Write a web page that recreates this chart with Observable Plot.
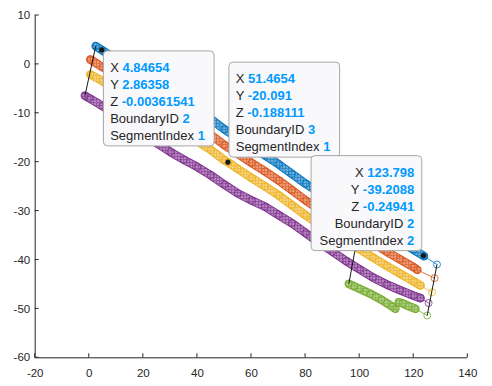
<!DOCTYPE html>
<html><head><meta charset="utf-8">
<script src="https://cdn.jsdelivr.net/npm/d3@7"></script>
<script src="https://cdn.jsdelivr.net/npm/@observablehq/plot@0.6"></script>
<style>body{margin:0;background:#fff;} svg{display:block;}</style>
</head><body><div id="chart"></div>
<script>
// ---- axis ticks ----
const xTicks = [-20, 0, 20, 40, 60, 80, 100, 120, 140];
const yTicks = [-60, -50, -40, -30, -20, -10, 0, 10];

// ---- lane boundary points ----
const blueX = [2.4, 4.84654, 10, 15, 20, 25, 30, 35, 40, 45, 50, 55, 60, 65, 70, 75, 80, 85, 90, 95, 100, 105, 110, 115, 120, 123.798];
const blueY = [3.75, 2.86358, 1.05, -0.7, -2.45, -4.2, -5.95, -7.7, -9.45, -11.2, -13.3, -15.1, -16.9, -18.6, -20.4, -22.4, -24.4, -26.2, -27.9, -29.6, -31.3, -33.0, -34.7, -36.3, -37.9, -39.2088];
const blueEnd = [128.6, -40.92];

const orangeX = [0.4, 5, 10, 15, 20, 25, 30, 35, 40, 45, 50, 55, 60, 65, 70, 75, 80, 85, 90, 95, 100, 105, 110, 115, 120, 121.3];
const orangeY = [1.0, -0.6, -2.15, -3.9, -5.65, -7.4, -9.15, -10.9, -12.65, -14.4, -16.5, -18.3, -20.15, -21.9, -23.7, -25.75, -27.8, -29.65, -31.4, -33.1, -34.85, -36.6, -38.3, -39.9, -41.5, -42.0];
const orangeEnd = [127.7, -43.7];

const yellowX = [0.4, 5, 10, 15, 20, 25, 30, 35, 40, 45, 50, 51.4654, 55, 60, 65, 70, 75, 80, 85, 90, 95, 100, 105, 110, 115, 120, 122.5];
const yellowY = [-2.07, -3.45, -5.22, -6.97, -8.72, -10.47, -12.22, -13.97, -15.72, -17.5, -19.6, -20.091, -21.4, -23.2, -24.95, -26.75, -28.8, -30.85, -32.7, -34.4, -36.1, -37.8, -39.5, -41.2, -42.8, -44.4, -45.2];
const yellowEnd = [126.8, -46.6];

const purpleX = [-1.6, 0, 5, 10, 15, 20, 25, 30, 35, 40, 45, 50, 55, 60, 65, 70, 75, 80, 85, 90, 95, 100, 105, 110, 115, 120, 122.5];
const purpleY = [-6.4, -6.9, -8.55, -10.4, -12.3, -14.2, -16.1, -17.9, -19.5, -21.0, -22.7, -24.6, -26.4, -27.8, -29.1, -30.8, -32.5, -34.5, -36.5, -38.3, -40.2, -41.9, -43.6, -45.0, -46.2, -47.3, -47.8];
const purpleEnd = [125.5, -48.8];

const green1X = [96.0, 98, 100, 102, 104, 106, 108, 110, 112, 113.2];
const green1Y = [-44.87, -45.4, -45.9, -46.4, -46.91, -47.5, -48.1, -48.8, -49.5, -49.98];
const green2X = [114.5, 116, 118, 120.6];
const green2Y = [-48.63, -48.9, -49.4, -49.98];
const greenEnd = [125.0, -51.35];

// ---- segment connector lines ----
const connX1 = [2.4, 100.5, 128.6];
const connY1 = [3.75, -31.3, -40.92];
const connX2 = [-1.6, 96.0, 125.0];
const connY2 = [-6.4, -44.87, -51.35];

// ---- data tips ----
const tipX = [4.84654, 51.4654, 123.798];
const tipY = [2.86358, -20.091, -39.2088];
const tipZ = [-0.00361541, -0.188111, -0.24941];
const tipBoundary = [2, 3, 2];
const tipSegment = [1, 1, 2];

// ---- build ----
const rows = (xs, ys) => xs.map((x, i) => ({x, y: ys[i]}));
const lanes = [
  {id: "blue", color: "#0072BD", pts: rows(blueX, blueY), end: blueEnd},
  {id: "orange", color: "#D95319", pts: rows(orangeX, orangeY), end: orangeEnd},
  {id: "yellow", color: "#EDB120", pts: rows(yellowX, yellowY), end: yellowEnd},
  {id: "purple", color: "#7E2F8E", pts: rows(purpleX, purpleY), end: purpleEnd},
  {id: "green", color: "#77AC30", pts: rows(green1X, green1Y), end: null},
  {id: "green", color: "#77AC30", pts: rows(green2X, green2Y), end: greenEnd}
];
const conns = connX1.map((x, i) => ({x1: x, y1: connY1[i], x2: connX2[i], y2: connY2[i]}));

const marks = [
  Plot.ruleX([-20], {stroke: "#262626", strokeWidth: 1}),
  Plot.ruleY([-60], {stroke: "#262626", strokeWidth: 1}),
  Plot.axisX({ticks: xTicks, tickSize: 0, tickPadding: 11, tickFormat: d => String(d), fontSize: 11.5, fill: "#262626"}),
  Plot.axisY({ticks: yTicks, tickSize: 0, tickPadding: 5, tickFormat: d => String(d), fontSize: 11.5, fill: "#262626"})
];
for (const l of lanes) {
  const full = l.end ? l.pts.concat([{x: l.end[0], y: l.end[1]}]) : l.pts;
  marks.push(Plot.line(full, {x: "x", y: "y", stroke: l.color, strokeWidth: 0.8}));
  marks.push(Plot.line(l.pts, {x: "x", y: "y", stroke: l.color, strokeWidth: 8.6}));
  marks.push(Plot.line(l.pts, {x: "x", y: "y", stroke: `url(#pat-${l.id})`, strokeWidth: 6.8}));
  marks.push(Plot.dot(full, {x: "x", y: "y", r: 3.5, stroke: l.color, strokeWidth: 0.8, fill: "none"}));
}
marks.push(Plot.link(conns, {x1: "x1", y1: "y1", x2: "x2", y2: "y2", stroke: "#000", strokeWidth: 0.9}));

const plot = Plot.plot({
  width: 492, height: 386,
  marginLeft: 34.7, marginRight: 24.7, marginTop: 15, marginBottom: 28.7,
  x: {domain: [-20, 140]},
  y: {domain: [-60, 10]},
  style: {fontFamily: "'Liberation Sans', Arial, sans-serif", fontSize: "11px", background: "white", color: "#262626"},
  marks
});
document.getElementById("chart").appendChild(plot);

const svg = d3.select(plot);
// speckle patterns for the dense marker bands
const defs = svg.insert("defs", ":first-child");
for (const l of lanes) {
  if (!defs.select(`#pat-${l.id}`).empty()) continue;
  const p = defs.append("pattern").attr("id", `pat-${l.id}`).attr("patternUnits", "userSpaceOnUse").attr("width", 3).attr("height", 3);
  p.append("rect").attr("width", 3).attr("height", 3).attr("fill", l.color);
  p.append("rect").attr("x", 0.7).attr("y", 0.7).attr("width", 1.7).attr("height", 1.7).attr("fill", "#fff").attr("opacity", 0.9);
}

const sx = plot.scale("x"), sy = plot.scale("y");
// inward tick marks
const tk = svg.append("g").attr("stroke", "#262626").attr("stroke-width", 1);
const y0 = sy.apply(-60), x0 = sx.apply(-20);
xTicks.forEach(t => { const p = sx.apply(t); tk.append("line").attr("x1", p).attr("x2", p).attr("y1", y0).attr("y2", y0 - 4); });
yTicks.forEach(t => { const p = sy.apply(t); tk.append("line").attr("x1", x0).attr("x2", x0 + 4).attr("y1", p).attr("y2", p); });

// data tips
const tipLayer = svg.append("g").attr("font-size", 13).attr("text-anchor", "start");
const H = 95;
tipX.forEach((tx, i) => {
  const px = sx.apply(tx), py = sy.apply(tipY[i]);
  const rowsT = [["X", tipX[i]], ["Y", tipY[i]], ["Z", tipZ[i]], ["BoundaryID", tipBoundary[i]], ["SegmentIndex", tipSegment[i]]];
  const g = tipLayer.append("g");
  const rect = g.append("rect").attr("rx", 4).attr("fill", "#f9f9fc").attr("stroke", "#a6a6a6").attr("stroke-width", 1);
  const texts = rowsT.map((r, j) => {
    const t = g.append("text").attr("text-anchor", "start").style("white-space", "pre");
    t.append("tspan").attr("fill", "#262626").text(r[0] + " ");
    t.append("tspan").attr("fill", "#0099FF").attr("font-weight", "bold").text(String(r[1]));
    return t;
  });
  const W = d3.max(texts, t => t.node().getComputedTextLength()) + 16;
  let bx, by;
  if (i === 0) { bx = px + 1.5; by = py + 1; }
  else if (i === 1) { bx = px + 1; by = py - 5 - H; }
  else { bx = px - 1.7 - W; by = py - 5 - H; }
  rect.attr("x", bx).attr("y", by).attr("width", W).attr("height", H);
  texts.forEach((t, j) => {
    if (i === 2) t.attr("text-anchor", "end").attr("x", bx + W - 7.6);
    else t.attr("x", bx + 6.8);
    t.attr("y", by + 21.3 + 17 * j);
  });
});
// datatip markers
tipX.forEach((tx, i) => {
  svg.append("circle").attr("cx", sx.apply(tx)).attr("cy", sy.apply(tipY[i])).attr("r", 2.6).attr("fill", "#1a1a1a");
});
</script>
</body></html>
